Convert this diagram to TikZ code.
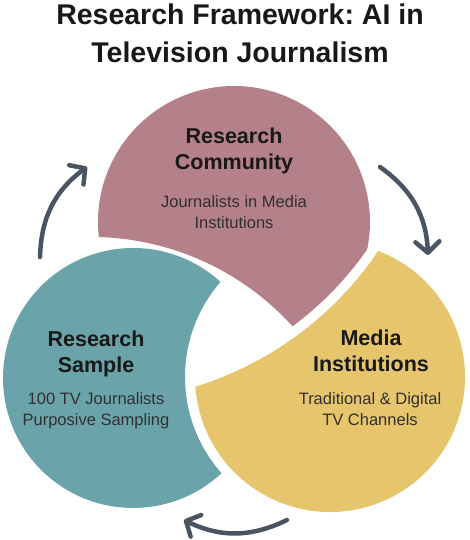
\documentclass[tikz,border=0pt]{standalone}
\usepackage{fontspec}
\setmainfont{Liberation Sans}
\usetikzlibrary{arrows.meta}
\frenchspacing
\definecolor{lobepink}{RGB}{180,128,138}
\definecolor{lobeteal}{RGB}{106,164,170}
\definecolor{lobeyellow}{RGB}{230,197,108}
\definecolor{arrowgray}{RGB}{74,84,99}
\definecolor{inktext}{RGB}{24,24,24}
\definecolor{desctextcol}{RGB}{48,48,48}
\begin{document}
\begin{tikzpicture}[x=1pt,y=1pt,
  titletext/.style={font=\bfseries\fontsize{28.5}{38}\selectfont, align=center, anchor=base, inner sep=0, text=inktext},
  headtext/.style={font=\bfseries\fontsize{21.5}{26.5}\selectfont, align=center, anchor=base, inner sep=0, text=inktext},
  desctext/.style={font=\fontsize{16.5}{21}\selectfont, align=center, anchor=base, inner sep=0, text=desctextcol},
  cyclearrow/.style={draw=arrowgray, line width=4.5pt, line cap=round, -{Straight Barb[length=11pt,width=24pt,round]}, bend left=26}
]
\useasboundingbox (0,0) rectangle (469,540);
% teal lobe: circle minus bite
\fill[lobeteal] (220.55,258.11) arc[start angle=47.67, end angle=312.91, radius=130]
  arc[start angle=221.57, end angle=139.0, radius=145] -- cycle;
% pink lobe: circle cut by cap and bite
\fill[lobepink] (98.84,302.89) arc[start angle=186.38, end angle=-11.61, radius=136]
  arc[start angle=-34.87, end angle=-53.40, radius=333]
  arc[start angle=42.18, end angle=88.35, radius=272] -- cycle;
% yellow lobe: circle minus bite
\fill[lobeyellow] (378.27,289.07) arc[start angle=69.05, end angle=-175.88, radius=135]
  arc[start angle=-72.81, end angle=-34.02, radius=343] -- cycle;
% title
\node[titletext] (title) at (240,477) {Research Framework: AI in\\Television Journalism};
% labels
\node[headtext] (commhead) at (234,370) {Research\\Community};
\node[desctext] (commdesc) at (234,311) {Journalists in Media\\Institutions};
\node[headtext] (samphead) at (96,167) {Research\\Sample};
\node[desctext] (sampdesc) at (96,114) {100 TV Journalists\\Purposive Sampling};
\node[headtext] (medhead) at (371,168) {Media\\Institutions};
\node[desctext] (meddesc) at (370,114) {Traditional \& Digital\\TV Channels};
% cycle arrows
\coordinate (a1s) at (40,283);
\coordinate (a1e) at (87,373);
\coordinate (a2s) at (380,373);
\coordinate (a2e) at (428,285);
\coordinate (a3s) at (287,20);
\coordinate (a3e) at (184,20);
\draw[cyclearrow] (a1s) to (a1e);
\draw[cyclearrow] (a2s) to (a2e);
\draw[cyclearrow] (a3s) to (a3e);
\end{tikzpicture}
\end{document}
